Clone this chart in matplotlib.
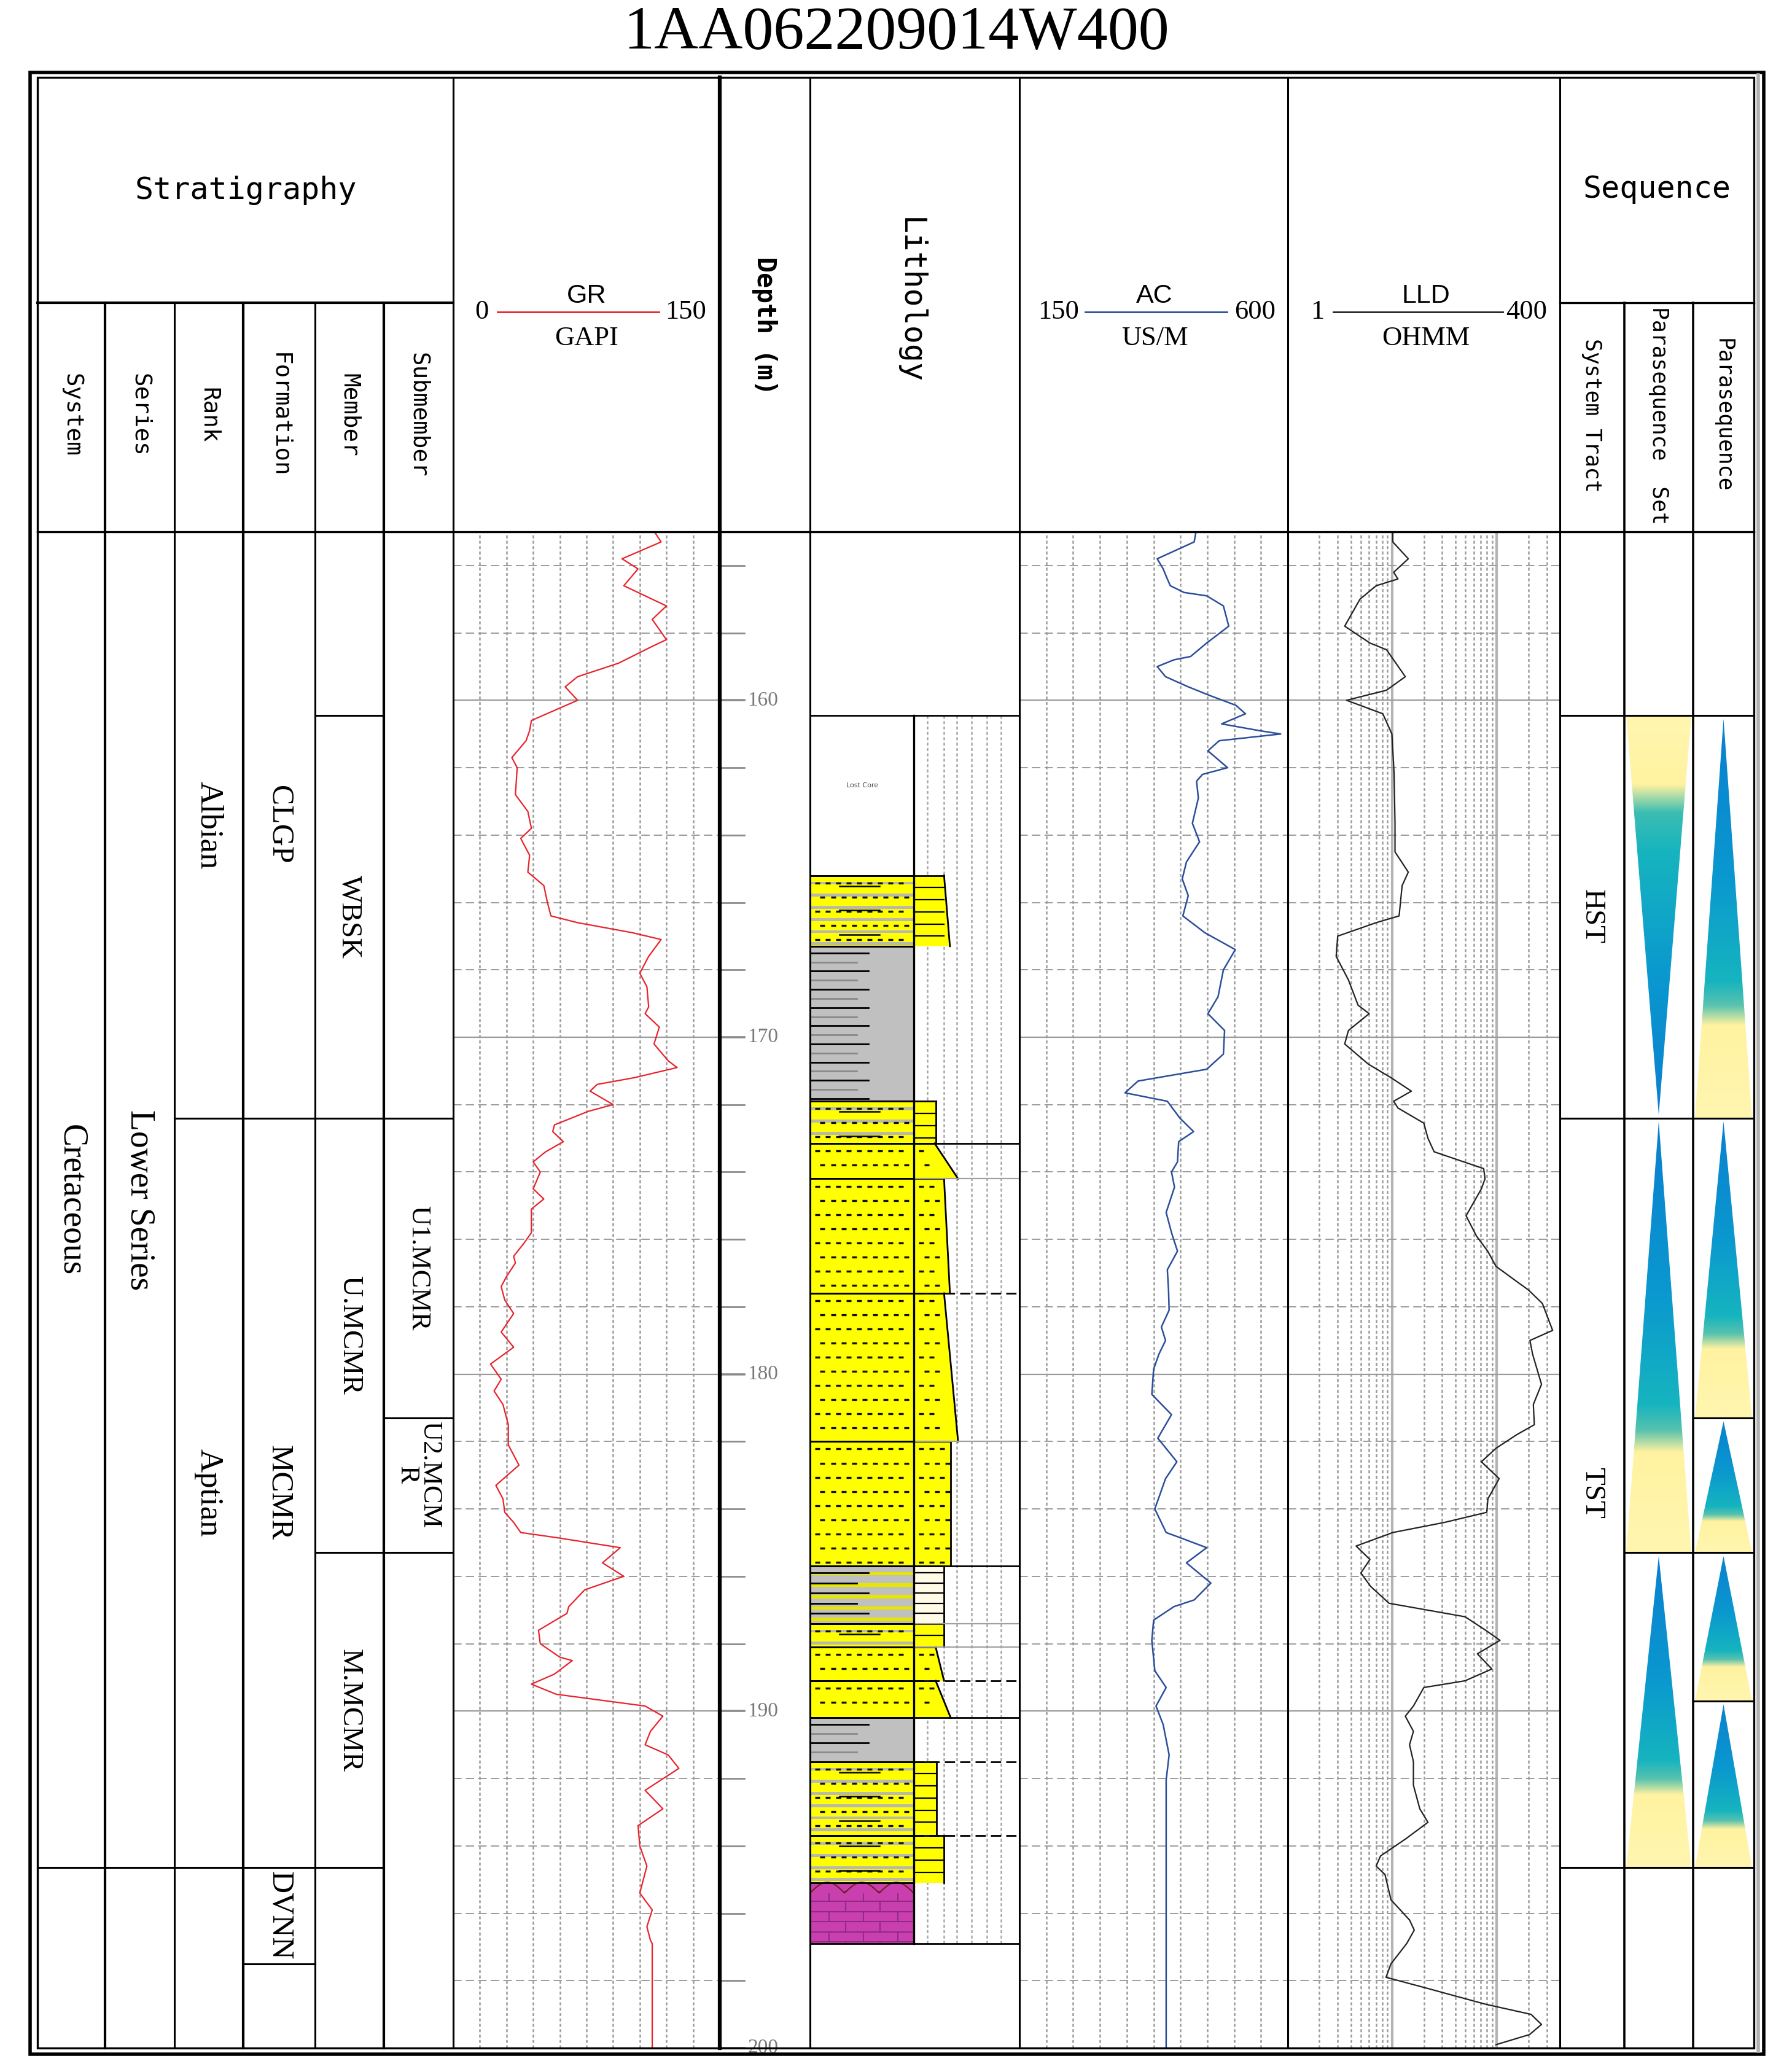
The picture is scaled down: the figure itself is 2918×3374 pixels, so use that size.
import numpy as np
import matplotlib
matplotlib.use('Agg')
import matplotlib.pyplot as plt
from matplotlib.ticker import MultipleLocator, FixedLocator, LogLocator
from matplotlib.colors import LinearSegmentedColormap
from matplotlib.patches import Polygon, Rectangle

W, H = 2918, 3374
D_TOP, D_BOT = 155.0, 200.0
Y_TOP, Y_BOT = 866, 3335

# ---- log curves (depth m, value) ----
gr_depth = [154.9, 155.3, 155.8, 156.1, 156.6, 157.2, 157.6, 158.2, 158.4, 158.9,
            159.3, 159.6, 160.0, 160.6, 160.9, 161.2, 161.7, 162.0, 162.8, 163.3,
            163.8, 164.1, 164.6, 165.1, 165.5, 166.0, 166.4, 166.6, 166.9, 167.1,
            167.6, 168.1, 168.5, 169.1, 169.3, 169.7, 170.2, 170.7, 170.9, 171.2,
            171.4, 171.6, 172.0, 172.2, 172.6, 172.8, 173.1, 173.4, 173.7, 174.0,
            174.5, 174.8, 175.1, 175.8, 176.1, 176.5, 176.7, 177.1, 177.4, 177.8,
            178.2, 178.75, 179.2, 179.7, 180.15, 180.5, 180.9, 181.5, 182.1, 182.7,
            183.3, 183.7, 184.1, 184.4, 184.7, 184.85, 185.15, 185.6, 186.0, 186.4,
            186.9, 187.1, 187.6, 188.0, 188.4, 188.5, 188.9, 189.2, 189.5, 189.85,
            190.15, 190.6, 191.0, 191.3, 191.7, 192.35, 192.9, 193.4, 194.0, 194.6,
            195.4, 195.9, 196.4, 196.8, 196.9, 200.0]
gr_value = [112, 117, 95, 104, 96, 120, 112, 120, 112, 93,
            70, 63, 70, 44, 43, 41, 33, 36, 35, 42,
            44, 38, 43, 42, 51, 53, 55, 70, 101, 117,
            110, 105, 109, 110, 108, 116, 113, 121, 126, 102,
            81, 77, 90, 76, 57, 56, 62, 52, 45, 49,
            45, 51, 44, 44, 40, 34, 35, 30, 27, 29,
            34, 27, 34, 21, 27, 23, 28, 31, 31, 37,
            24, 28, 29, 34, 38, 58, 94, 84, 96, 74,
            65, 64, 48, 49, 60, 67, 57, 44, 58, 108,
            118, 111, 108, 121, 127, 108, 118, 104, 105, 109,
            105, 112, 109, 111, 112, 112]

ac_depth = [154.9, 155.3, 155.8, 156.1, 156.4, 156.6, 156.8, 156.9, 157.2, 157.8,
            158.3, 158.7, 158.8, 159.0, 159.3, 159.6, 159.85, 160.15, 160.4, 160.7,
            160.9, 161.0, 161.2, 161.5, 162.0, 162.2, 162.4, 162.9, 163.65, 164.2,
            164.8, 165.3, 165.8, 166.4, 166.9, 167.4, 168.0, 168.8, 169.3, 169.8,
            170.5, 170.95, 171.3, 171.65, 171.9, 172.4, 172.8, 173.1, 173.7, 174.0,
            174.45, 175.2, 175.8, 176.35, 176.9, 177.5, 178.1, 178.6, 179.0, 179.4,
            179.85, 180.6, 181.2, 181.9, 182.6, 183.1, 184.0, 184.7, 184.85, 185.15,
            185.6, 186.2, 186.7, 186.9, 187.3, 187.9, 188.8, 189.3, 189.85, 190.4,
            191.3, 192.05, 200.0]
ac_value = [447, 443, 381, 391, 398, 403, 426, 464, 492, 501,
            464, 437, 409, 381, 395, 433, 468, 513, 529, 489,
            552, 588, 485, 466, 499, 457, 447, 450, 440, 452,
            430, 423, 433, 424, 461, 512, 492, 483, 466, 494,
            492, 464, 349, 327, 398, 419, 442, 417, 415, 405,
            410, 396, 405, 415, 398, 400, 401, 388, 395, 384,
            375, 372, 405, 382, 414, 395, 377, 396, 419, 464,
            430, 471, 443, 409, 375, 372, 377, 396, 379, 391,
            401, 396, 396]

lld_depth = [154.9, 155.3, 155.8, 156.2, 156.4, 156.6, 157.0, 157.8, 158.3, 158.5,
             159.3, 159.7, 160.0, 160.4, 161.0, 162.2, 163.65, 164.5, 165.1, 165.5,
             166.4, 166.6, 167.0, 167.6, 168.3, 169.05, 169.3, 169.8, 170.2, 170.8,
             171.2, 171.6, 171.9, 172.1, 172.55, 173.0, 173.4, 173.9, 174.2, 174.5,
             175.3, 175.9, 176.35, 176.8, 177.2, 177.5, 177.9, 178.7, 179.0, 179.4,
             180.3, 180.9, 181.5, 181.8, 182.2, 182.6, 183.1, 183.7, 184.1, 184.4,
             184.7, 185.1, 185.5, 185.9, 186.3, 186.8, 187.2, 187.6, 187.9, 188.3,
             188.75, 189.1, 189.3, 189.85, 190.15, 190.6, 191.0, 191.5, 192.2, 192.9,
             193.3, 193.8, 194.3, 194.6, 194.85, 195.6, 196.2, 196.5, 196.9, 197.5,
             197.9, 198.2, 198.7, 199.0, 199.3, 199.6, 199.9]
lld_value = [10.1, 10.1, 14.2, 10.3, 11.3, 7.0, 4.9, 3.5, 6.1, 8.8,
             13.3, 8.8, 3.65, 8.1, 9.9, 10.4, 10.6, 10.6, 14.2, 12.4,
             11.6, 7.0, 3.0, 2.9, 3.8, 4.7, 6.0, 3.8, 3.5, 5.9,
             9.7, 15.2, 10.3, 11.3, 20, 21.9, 25.1, 74.7, 77, 71,
             50.7, 63.7, 81.7, 98, 147, 200, 272, 341, 207, 219,
             267, 223, 228, 154, 98, 71, 105, 82, 80, 31.5,
             10.1, 4.5, 6.1, 5.0, 6.2, 9.3, 49.6, 78, 107, 65,
             89.5, 49.6, 20, 15.9, 13.3, 15.9, 14.6, 15.9, 15.9, 18.3,
             21.9, 13.3, 7.7, 7.0, 8.5, 9.7, 14.6, 16.2, 13.7, 9.7,
             8.7, 20, 78, 212, 267, 205, 98]

depth_labels = [160, 170, 180, 190, 200]

# ---- stratigraphy (top, base, label) ----
system_units = [(155, 194.65, 'Cretaceous'), (194.65, 200, '')]
series_units = [(155, 194.65, 'Lower Series'), (194.65, 200, '')]
rank_units = [(155, 172.4, 'Albian'), (172.4, 194.65, 'Aptian'), (194.65, 200, '')]
formation_units = [(155, 172.4, 'CLGP'), (172.4, 194.65, 'MCMR'),
                   (194.65, 197.5, 'DVNN'), (197.5, 200, '')]
member_units = [(155, 160.45, ''), (160.45, 172.4, 'WBSK'), (172.4, 185.3, 'U.MCMR'),
                (185.3, 194.65, 'M.MCMR'), (194.65, 200, '')]
submember_units = [(155, 172.4, ''), (172.4, 181.3, 'U1.MCMR'),
                   (181.3, 185.3, 'U2.MCM\nR'), (185.3, 200, '')]

# ---- lithology ----
litho_top = [160.45, 165.2, 167.3, 171.9, 173.15, 174.2, 177.6, 182.0,
             185.7, 187.4, 188.1, 189.1, 190.2, 191.5, 193.7, 195.1]
litho_base = [165.2, 167.3, 171.9, 173.15, 174.2, 177.6, 182.0, 185.7,
              187.4, 188.1, 189.1, 190.2, 191.5, 193.7, 195.1, 196.9]
litho_kind = ['lost', 'interbed', 'shale', 'interbed', 'sand', 'sand', 'sand', 'sand',
              'shaly', 'interbed', 'sand', 'sand', 'shale', 'interbed', 'interbed', 'lime']
grain_top = [0, 0.64, 0, 0.60, 0.595, 0.64, 0.64, 0.672,
             0.64, 0.64, 0.60, 0.60, 0, 0.605, 0.64, 0]
grain_base = [0, 0.668, 0, 0.60, 0.707, 0.668, 0.707, 0.672,
              0.64, 0.64, 0.64, 0.672, 0, 0.605, 0.64, 0]
grain_lines = [0.56, 0.639, 0.70, 0.771, 0.845, 0.912]
litho_rlines = [(160.45, 'solid'), (173.15, 'solid'), (174.2, 'grey'), (177.6, 'dash'),
                (182.0, 'grey'), (185.7, 'solid'), (187.4, 'grey'), (188.1, 'grey'),
                (189.1, 'dash'), (190.2, 'solid'), (191.5, 'dash'), (193.7, 'dash'),
                (196.9, 'solid')]

# ---- sequence ----
tract_units = [(155, 160.45, ''), (160.45, 172.4, 'HST'), (172.4, 194.65, 'TST'), (194.65, 200, '')]
pset_units = [(155, 160.45, None), (160.45, 172.4, 'down'), (172.4, 185.3, 'up'),
              (185.3, 194.65, 'up'), (194.65, 200, None)]
pseq_units = [(155, 160.45, None), (160.45, 172.4, 'up'), (172.4, 181.3, 'up'),
              (181.3, 185.3, 'up'), (185.3, 189.7, 'up'), (189.7, 194.65, 'up'),
              (194.65, 200, None)]

GRID = '#9c9c9c'
YELLOW = '#ffff00'
SHALE = '#c0c0c0'
LIME = '#c93fae'
SERIF = 'Liberation Serif'
MONO = 'DejaVu Sans Mono'
SPLIT = 0.496

fig = plt.figure(figsize=(W / 100, H / 100), dpi=100)


def track(x0, x1, xlim=(0, 1)):
    ax = fig.add_axes([x0 / W, 1 - Y_BOT / H, (x1 - x0) / W, (Y_BOT - Y_TOP) / H])
    ax.set_xlim(*xlim)
    ax.set_ylim(D_BOT, D_TOP)
    for s in ax.spines.values():
        s.set_visible(False)
    ax.tick_params(which='both', length=0, labelleft=False, labelbottom=False)
    ax.patch.set_alpha(0)
    return ax


def depth_grid(ax):
    ax.yaxis.set_major_locator(MultipleLocator(10))
    ax.yaxis.set_minor_locator(MultipleLocator(2))
    ax.grid(which='major', axis='y', color=GRID, lw=1.6, ls='-')
    ax.grid(which='minor', axis='y', color=GRID, lw=1.4, ls=(0, (7, 3.5)))


# ---- GR ----
gr = track(738, 1172, (0, 150))
depth_grid(gr)
gr.xaxis.set_major_locator(MultipleLocator(15))
gr.grid(which='major', axis='x', color=GRID, lw=1.8, ls=(0, (2, 1.5)))
gr.plot(gr_value, gr_depth, color='#e8232c', lw=1.6)

# ---- AC ----
ac = track(1660, 2097, (150, 600))
depth_grid(ac)
ac.xaxis.set_major_locator(FixedLocator(np.arange(150, 601, 45)))
ac.grid(which='major', axis='x', color=GRID, lw=1.8, ls=(0, (2, 1.5)))
ac.plot(ac_value, ac_depth, color='#2b4e9b', lw=1.8)

# ---- LLD ----
lld = track(2097, 2540, (1, 400))
lld.set_xscale('log')
lld.set_xlim(1, 400)
depth_grid(lld)
lld.xaxis.set_major_locator(LogLocator(base=10))
lld.xaxis.set_minor_locator(LogLocator(base=10, subs=np.arange(2, 10), numticks=20))
lld.grid(which='major', axis='x', color='#b4b4b4', lw=3)
lld.grid(which='minor', axis='x', color=GRID, lw=1.8, ls=(0, (2, 1.5)))
lld.tick_params(which='both', length=0, labelleft=False, labelbottom=False)
lld.plot(lld_value, lld_depth, color='#222222', lw=1.6)

# ---- depth track ----
dep = track(1172, 1319)
for d in np.arange(156, 201, 2):
    dep.plot([0, 0.27], [d, d], color='#8c8c8c', lw=2.6 if d % 10 == 0 else 2.0)
for d in depth_labels:
    dep.text(0.31, d, str(d), ha='left', va='center', fontsize=24, family=SERIF,
             color='#7a7a7a')

# ---- lithology ----
lit = track(1319, 1660)
for gx in grain_lines:
    lit.plot([gx, gx], [160.45, 196.9], color='#a8a8a8', lw=1.8, ls=(0, (2, 1.5)), zorder=1)


def dashes(ax, top, base, x0, x1):
    for i, y in enumerate(np.arange(top + 0.22, base - 0.1, 0.42)):
        xs = np.arange(x0 + 0.035 + 0.025 * (i % 2), x1 - 0.015, 0.05)
        ax.plot(xs, [y] * len(xs), ls='none', marker='_', ms=6, mew=2.4,
                color='#111111', zorder=4)


def bands(ax, top, base, x0, x1, step, thick, color):
    for y in np.arange(top + step / 2, base - thick, step):
        ax.fill_between([x0, x1], y, y + thick, color=color, lw=0, zorder=3)


for top, base, kind, gt, gb in zip(litho_top, litho_base, litho_kind, grain_top, grain_base):
    face = {'lost': 'white', 'interbed': YELLOW, 'shale': SHALE, 'sand': YELLOW,
            'shaly': SHALE, 'lime': LIME}[kind]
    lit.add_patch(Rectangle((0, top), SPLIT, base - top, facecolor=face, edgecolor='none', zorder=2))
    if gt > 0:
        rface = '#fffbe6' if kind == 'shaly' else YELLOW
        lit.add_patch(Polygon([(SPLIT, top), (gt, top), (gb, base), (SPLIT, base)],
                              facecolor=rface, edgecolor='none', zorder=2))
        lit.plot([gt, gb], [top, base], color='k', lw=2, zorder=5)
        lit.plot([SPLIT, gt], [top, top], color='k', lw=2, zorder=5)
    gmin = min(gt, gb)
    if kind == 'sand':
        dashes(lit, top, base, 0, SPLIT)
        dashes(lit, top, base, SPLIT, gmin)
    elif kind == 'interbed':
        bands(lit, top, base, 0, SPLIT, 0.36, 0.09, '#b9b9b0')
        dashes(lit, top, base, 0, SPLIT)
        for i, y in enumerate(np.arange(top + 0.36, base - 0.1, 0.36)):
            lit.plot([SPLIT, gmin], [y, y], color='k', lw=1.6, zorder=4)
            if i % 2 == 0:
                lit.plot([0.14, 0.33], [y - 0.05, y - 0.05], color='k', lw=1.8, zorder=4)
    elif kind == 'shale':
        for i, y in enumerate(np.arange(top + 0.2, base - 0.05, 0.27)):
            length = [0.56, 0.45, 0.56, 0.45][i % 4] * SPLIT
            lit.plot([0, length], [y, y], color='k' if i % 2 == 0 else '#8a8a8a',
                     lw=2, zorder=4)
    elif kind == 'shaly':
        bands(lit, top, base, 0, SPLIT, 0.34, 0.1, '#e6e600')
        for i, y in enumerate(np.arange(top + 0.2, base - 0.05, 0.3)):
            lit.plot([0, [0.56, 0.45][i % 2] * SPLIT], [y, y], color='k', lw=2, zorder=4)
            lit.plot([SPLIT, gmin], [y, y], color='k', lw=1.6, zorder=4)
    elif kind == 'lime':
        for i, y in enumerate(np.arange(top + 0.25, base, 0.3)):
            lit.plot([0, SPLIT], [y, y], color='#8f2a86', lw=1.5, zorder=4)
            for bx in np.arange(0.09 + 0.08 * (i % 2), SPLIT, 0.165):
                lit.plot([bx, bx], [y, min(y + 0.3, base)], color='#8f2a86', lw=1.5, zorder=4)
        wx = np.linspace(0, SPLIT, 200)
        wy = top + 0.3 - 0.32 * np.abs(np.sin(np.pi * wx / 0.165))
        lit.fill_between(wx, wy, top + 0.3, color=LIME, lw=0, zorder=4)
        lit.plot(wx, wy, color='#6e1f1f', lw=1.5, zorder=5)
    elif kind == 'lost':
        lit.text(SPLIT / 2, (top + base) / 2 - 0.3, 'Lost Core', ha='center', va='center',
                 fontsize=8, color='#444444', zorder=5)
    lit.add_patch(Rectangle((0, top), SPLIT, base - top, fill=False, edgecolor='k',
                            lw=2, zorder=6))

for y, style in litho_rlines:
    if style == 'solid':
        lit.plot([SPLIT, 1], [y, y], color='k', lw=2, zorder=6)
    elif style == 'dash':
        lit.plot([SPLIT, 1], [y, y], color='k', lw=2, ls=(0, (6, 3)), zorder=6)
    else:
        lit.plot([SPLIT, 1], [y, y], color='#a0a0a0', lw=1.6, zorder=6)
lit.plot([SPLIT, SPLIT], [160.45, 196.9], color='k', lw=2.4, zorder=6)

# ---- stratigraphy columns ----
strat = track(61, 738, (61, 738))
strat_cols = [(61, 171, system_units, 40), (171, 284, series_units, 40),
              (284, 396, rank_units, 38), (396, 513, formation_units, 36),
              (513, 625, member_units, 34), (625, 738, submember_units, 32)]
for x0, x1, units, fs in strat_cols:
    for top, base, label in units:
        if top > D_TOP:
            strat.plot([x0, x1], [top, top], color='k', lw=2.2)
        if '\n' in label:
            strat.text((x0 + x1) / 2, top + 0.1, label, rotation=-90, ha='center', va='top',
                       fontsize=fs, family=SERIF, linespacing=0.9)
        elif label:
            strat.text((x0 + x1) / 2, (top + base) / 2, label, rotation=-90, ha='center',
                       va='center', fontsize=fs, family=SERIF)

# ---- sequence columns ----
up_cmap = LinearSegmentedColormap.from_list(
    'up', [(0, '#0a7fd0'), (0.4, '#0a98cf'), (0.66, '#16b4bf'), (0.72, '#58c2ae'),
           (0.77, '#fff2a0'), (1, '#fff6b0')])
down_cmap = LinearSegmentedColormap.from_list(
    'down', [(0, '#fff6b0'), (0.17, '#fff2a0'), (0.24, '#3bbdb3'), (0.34, '#16b4bf'),
             (0.65, '#0a98cf'), (1, '#0a7fd0')])

seq = track(2540, 2856, (2540, 2856))


def triangle(ax, top, base, x0, x1, kind):
    if kind == 'up':
        pts = [((x0 + x1) / 2, top + 0.1), (x1, base), (x0, base)]
        cmap = up_cmap
    else:
        pts = [(x0, top), (x1, top), ((x0 + x1) / 2, base - 0.1)]
        cmap = down_cmap
    poly = Polygon(pts, closed=True, facecolor='none', edgecolor='none')
    ax.add_patch(poly)
    grad = np.linspace(0, 1, 256).reshape(-1, 1)
    im = ax.imshow(grad, cmap=cmap, extent=(x0, x1, base, top), aspect='auto',
                   origin='upper', interpolation='bilinear', zorder=2)
    im.set_clip_path(poly)


for top, base, label in tract_units:
    if top > D_TOP:
        seq.plot([2540, 2645], [top, top], color='k', lw=2.2)
    if label:
        seq.text(2592, (top + base) / 2, label, rotation=-90, ha='center', va='center',
                 fontsize=34, family=SERIF)
for x0, x1, units in [(2645, 2757, pset_units), (2757, 2856, pseq_units)]:
    for top, base, kind in units:
        if top > D_TOP:
            seq.plot([x0, x1], [top, top], color='k', lw=2.2, zorder=5)
        if kind:
            triangle(seq, top, base, x0 + 3, x1 - 3, kind)
seq.set_xlim(2540, 2856)
seq.set_ylim(D_BOT, D_TOP)

# ---- header and frame (pixel coordinates) ----
ov = fig.add_axes([0, 0, 1, 1])
ov.set_xlim(0, W)
ov.set_ylim(H, 0)
ov.axis('off')

ov.text(1460, 55, '1AA062209014W400', ha='center', va='center', fontsize=72, family=SERIF)

ov.add_patch(Rectangle((49, 118), 2872 - 49, 3345 - 118, fill=False, edgecolor='k', lw=4))
ov.add_patch(Rectangle((61, 126), 2856 - 61, 3335 - 126, fill=False, edgecolor='k', lw=2.4))
ov.plot([2863, 2863], [122, 3340], color='#b0b0b0', lw=4)

ov.plot([61, 2856], [Y_TOP, Y_TOP], color='k', lw=2.4)
ov.plot([61, 738], [493, 493], color='k', lw=3)
ov.plot([2540, 2856], [493, 493], color='k', lw=2.4)
for x, lw in [(738, 2.2), (1172, 4.5), (1319, 2.2), (1660, 2.2), (2097, 2.2), (2540, 2.2)]:
    ov.plot([x, x], [126, Y_BOT], color='k', lw=lw)
for x, lw in [(171, 3), (284, 2.2), (396, 3), (513, 2.2), (625, 3), (2645, 2.6), (2757, 2.6)]:
    ov.plot([x, x], [493, Y_BOT], color='k', lw=lw)

ov.text(400, 310, 'Stratigraphy', ha='center', va='center', fontsize=36, family=MONO)
for xc, name in [(116, 'System'), (228, 'Series'), (340, 'Rank'), (455, 'Formation'),
                 (569, 'Member'), (681, 'Submember')]:
    ov.text(xc, 676, name, rotation=-90, ha='center', va='center', fontsize=27, family=MONO)

ov.text(2698, 308, 'Sequence', ha='center', va='center', fontsize=36, family=MONO)
for xc, name in [(2592, 'System Tract'), (2701, 'Parasequence  Set'), (2806, 'Parasequence')]:
    ov.text(xc, 676, name, rotation=-90, ha='center', va='center', fontsize=25, family=MONO)

ov.text(1245, 530, 'Depth (m)', rotation=-90, ha='center', va='center', fontsize=30,
        family=MONO, fontweight='bold')
ov.text(1482, 490, 'Lithology', rotation=-90, ha='center', va='center', fontsize=36,
        family=MONO)

curve_heads = [(955, 810, 1073, '#e8232c', 'GR', '0', 784, '150', 1117, 'GAPI'),
               (1880, 1767, 1998, '#2b4e9b', 'AC', '150', 1724, '600', 2044, 'US/M'),
               (2322, 2171, 2447, '#222222', 'LLD', '1', 2145, '400', 2486, 'OHMM')]
for xc, l0, l1, col, name, lo, xlo, hi, xhi, unit in curve_heads:
    ov.plot([l0, l1], [508, 508], color=col, lw=2)
    ov.text(xc, 482, name, ha='center', va='center', fontsize=31, family='Liberation Sans')
    ov.text(xlo, 508, lo, ha='center', va='center', fontsize=32, family=SERIF)
    ov.text(xhi, 508, hi, ha='center', va='center', fontsize=32, family=SERIF)
    ov.text(xc, 551, unit, ha='center', va='center', fontsize=32, family=SERIF)

fig.savefig('out.png', dpi=100, facecolor='white')
